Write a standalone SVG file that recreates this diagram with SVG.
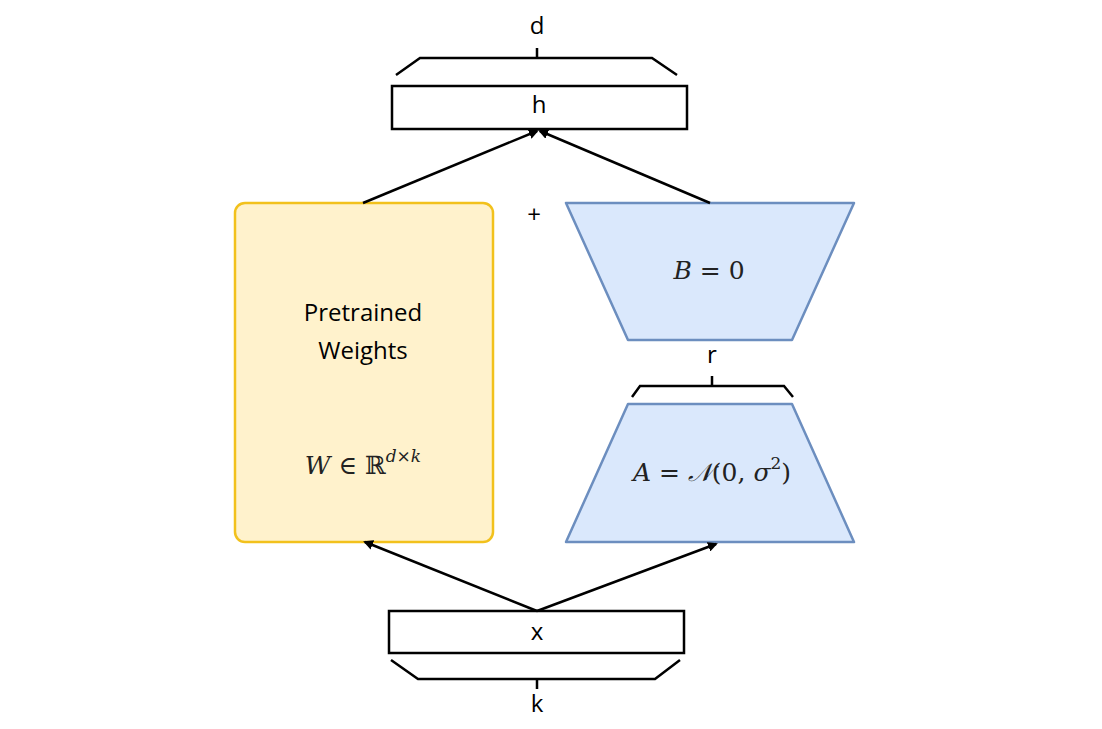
<svg xmlns="http://www.w3.org/2000/svg" width="1102" height="729" viewBox="0 0 1102 729">
<style>
.t{font-family:"Open Sans","Liberation Sans",sans-serif;font-size:24px;fill:#000;text-anchor:middle;dominant-baseline:middle}
.m{font-family:"DejaVu Serif","Liberation Serif",serif;font-size:25px;fill:#222;text-anchor:middle;dominant-baseline:middle}
.ln{fill:none;stroke:#000;stroke-width:2.5}
.box{fill:#fff;stroke:#000;stroke-width:2.5}
.blue{fill:#dae8fc;stroke:#6c8ebf;stroke-width:2.5;stroke-linejoin:round}
</style>
<defs><marker id="ah" markerWidth="10" markerHeight="10" refX="8" refY="5" orient="auto" markerUnits="userSpaceOnUse" viewBox="0 0 10 10"><path d="M0,0 L10,5 L0,10 Z" fill="#000"/></marker></defs>
<rect width="1102" height="729" fill="#fff"/>
<g id="brace-d"><path class="ln" d="M396,75 L420,58 L652,58 L677,75 M537,48 L537,58"/><text class="t" x="537" y="28">d</text></g>
<g id="h"><rect class="box" x="392" y="86" width="295" height="43"/><text class="t" x="539" y="107">h</text></g>
<g id="weights"><rect x="235" y="203" width="258" height="339" rx="10" fill="#fff2cc" stroke="#f2c11c" stroke-width="2.5"/><text class="t" x="363" y="315">Pretrained</text><text class="t" x="363" y="353">Weights</text><text class="m" x="363" y="467"><tspan font-style="italic">W</tspan> ∈ ℝ<tspan font-size="17" dy="-10" font-style="italic">d×k</tspan></text></g>
<text class="t" x="534" y="217">+</text>
<g id="B"><path class="blue" d="M566,203 L854,203 L792,340 L628,340 Z"/><text class="m" x="709" y="272"><tspan font-style="italic">B</tspan> = 0</text></g>
<g id="brace-r"><path class="ln" d="M632,397 L640,386 L784,386 L793,397 M712,376 L712,386"/><text class="t" x="712" y="357">r</text></g>
<g id="A"><path class="blue" d="M628,404 L792,404 L854,542 L566,542 Z"/><text class="m" x="712" y="474"><tspan font-style="italic">A</tspan> = <tspan font-style="italic">𝒩</tspan>(0, <tspan font-style="italic">σ</tspan><tspan font-size="17" dy="-10">2</tspan><tspan dy="10">)</tspan></text></g>
<g id="x"><rect class="box" x="389" y="611" width="295" height="42"/><text class="t" x="537" y="634">x</text></g>
<g id="brace-k"><path class="ln" d="M391,660 L418,679 L655,679 L680,660 M537,679 L537,689"/><text class="t" x="537" y="706">k</text></g>
<g id="connectors" class="ln" marker-end="url(#ah)">
<line x1="363" y1="203" x2="537" y2="131" marker-end="url(#ah)"/>
<line x1="710" y1="203" x2="540" y2="131" marker-end="url(#ah)"/>
<line x1="537" y1="611" x2="365" y2="542" marker-end="url(#ah)"/>
<line x1="537" y1="611" x2="716" y2="544" marker-end="url(#ah)"/>
</g>
</svg>
